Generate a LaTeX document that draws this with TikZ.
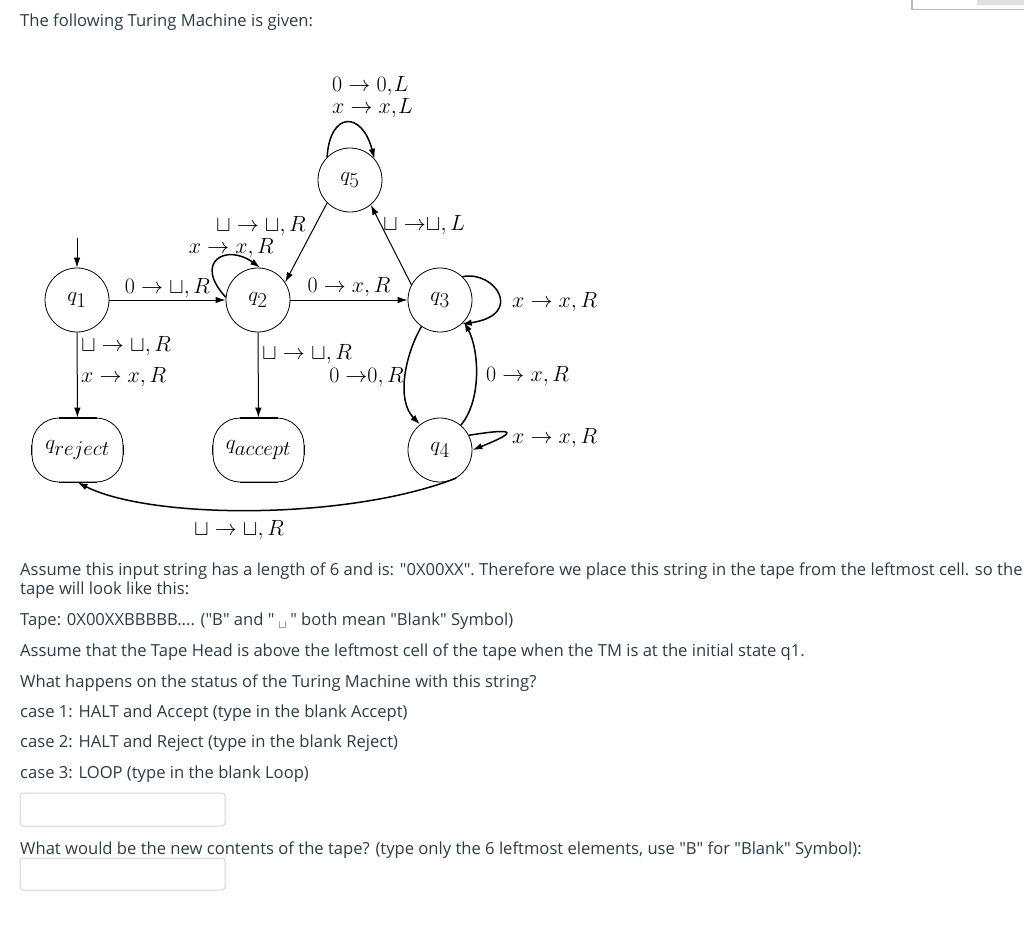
\RequirePackage{fix-cm}
\documentclass[tikz,border=0pt]{standalone}
\usepackage[no-math]{fontspec}
\setmainfont{Open Sans}
\usetikzlibrary{arrows.meta}
\definecolor{textc}{HTML}{2D3B45}
\definecolor{boxc}{HTML}{D0D4D8}
\newcommand\dq{\textquotedbl}
\begin{document}
\begin{tikzpicture}[x=1pt,y=-1pt,
  state/.style={circle,draw,line width=0.8pt,minimum size=64pt,inner sep=0pt,font=\fontsize{21}{21}\selectfont},
  halt/.style={rectangle,rounded corners=27pt,draw,line width=0.8pt,minimum width=91pt,minimum height=64pt,inner sep=0pt,font=\fontsize{21}{21}\selectfont},
  lbl/.style={inner sep=0pt,font=\fontsize{22}{22}\selectfont},
  edge/.style={-{Latex[length=10pt,width=6.5pt]},line width=1pt},
  cedge/.style={edge,line width=1.5pt},
  thickseg/.style={line width=1.8pt},
  body/.style={anchor=base west,inner sep=0pt,font=\fontsize{16.6}{19}\selectfont,text=textc},
  inbox/.style={draw=boxc,line width=1pt,rounded corners=3pt}]
\useasboundingbox (0,0) rectangle (1024,932);
% top-right fragment
\fill[gray!25] (977,0) rectangle (1024,5);
\draw[gray!55,line width=1.4pt] (912,0) -- (912,9.5) -- (1024,9.5);
% title
\node[body] (t0) at (20,26.5) {The following Turing Machine is given:};
% states
\node[state] (q1) at (77,300) {$q_{\textstyle 1}$};
\node[state] (q2) at (258,300) {$q_{\textstyle 2}$};
\node[state] (q3) at (440,300) {$q_{\textstyle 3}$};
\node[state] (q4) at (440,450) {$q_{\textstyle 4}$};
\node[state] (q5) at (350,180) {$q_{\textstyle 5}$};
\node[halt] (qrej) at (77.5,450) {$q_{\textstyle reject}$};
\node[halt] (qacc) at (258.5,450) {$q_{\textstyle accept}$};
\foreach \n in {qrej,qacc}{
  \draw[thickseg] ([xshift=-19pt]\n.north) -- ([xshift=19pt]\n.north);
  \draw[line width=1.2pt] ([xshift=-19pt]\n.south) -- ([xshift=19pt]\n.south);
  \draw[line width=1.5pt] ([yshift=-5pt]\n.west) -- ([yshift=5pt]\n.west);
  \draw[line width=1.5pt] ([yshift=-5pt]\n.east) -- ([yshift=5pt]\n.east);
}
\coordinate (init) at (77,238);
% edges
\draw[edge] (init) -- (q1);
\draw[edge] (q1) -- (q2);
\draw[edge] (q2) -- (q3);
\draw[edge] (q5.225) -- (q2.33);
\draw[edge] (q3.152) -- (q5.310);
\draw[edge] (q1) -- (qrej);
\draw[edge] (q2) -- (qacc);
\draw[cedge] (q5.135) .. controls (330,111) and (362,111) .. (q5.41);
\draw[cedge] (q2.175) .. controls (193,262) and (226,243) .. (q2.86);
\draw[cedge] (q3.46) .. controls (495,270) and (525,315) .. (q3.312);
\draw[cedge] (q3.235) .. controls (405,355) and (396,400) .. (q4.128);
\draw[cedge] (q4.50) .. controls (482,400) and (479,350) .. (q3.318);
\draw[cedge] (q4.27) .. controls (520,427) and (515,433) .. (q4.0);
\draw[cedge] (q4.300) .. controls (350,520) and (152,520) .. (qrej.south);
% labels
\node[lbl,anchor=west] (l5a) at (332,86.5) {$0 \to 0,\mskip-2mu L$};
\node[lbl,anchor=west] (l5b) at (332,108) {$x \to x,\mskip-2mu L$};
\node[lbl,anchor=east] (l52) at (306,226) {$\sqcup \to \sqcup, R$};
\node[lbl,anchor=east] (l22) at (274,248) {$x \to x, R$};
\node[lbl,anchor=west] (l35) at (383,225) {$\sqcup \to\mskip-5mu \sqcup, L$};
\node[lbl] (l12) at (167.5,288) {$0 \to \sqcup, R$};
\node[lbl] (l23) at (349,287.5) {$0 \to x, R$};
\node[lbl,anchor=west] (l33) at (512,302) {$x \to x, R$};
\node[lbl,anchor=west] (l1ra) at (81,346) {$\sqcup \to \sqcup, R$};
\node[lbl,anchor=west] (l1rb) at (81,377) {$x \to x, R$};
\node[lbl,anchor=west] (l2a) at (262,354) {$\sqcup \to \sqcup, R$};
\node[lbl,anchor=east] (l34) at (404,377) {$0 \to\mskip-5mu 0, R$};
\node[lbl,anchor=west] (l43) at (486,376) {$0 \to x, R$};
\node[lbl,anchor=west] (l44) at (512,438) {$x \to x, R$};
\node[lbl] (l4r) at (239,530) {$\sqcup \to \sqcup, R$};
% body text
\node[body] (t1) at (20,575.5) {Assume this input string has a length of 6 and is: \dq0X00XX\dq. Therefore we place this string in the tape from the leftmost cell. so the};
\node[body] (t2) at (20,594.5) {tape will look like this:};
\node[body] (t3) at (20,625) {Tape: 0X00XXBBBBB.... (\dq B\dq\ and \dq\hspace{4pt}\raisebox{-3pt}{$\scriptstyle\sqcup$}\hspace{4pt}\dq\ both mean \dq Blank\dq\ Symbol)};
\node[body] (t4) at (20,656.5) {Assume that the Tape Head is above the leftmost cell of the tape when the TM is at the initial state q1.};
\node[body] (t5) at (20,687.5) {What happens on the status of the Turing Machine with this string?};
\node[body] (t6) at (20,717.5) {case 1: HALT and Accept (type in the blank Accept)};
\node[body] (t7) at (20,747.5) {case 2: HALT and Reject (type in the blank Reject)};
\node[body] (t8) at (20,778.5) {case 3: LOOP (type in the blank Loop)};
\draw[inbox] (20,793) rectangle (225,826);
\node[body] (t9) at (20,854.5) {What would be the new contents of the tape? (type only the 6 leftmost elements, use \dq B\dq\ for \dq Blank\dq\ Symbol):};
\draw[inbox] (20,858) rectangle (225,890);
\end{tikzpicture}
\end{document}
